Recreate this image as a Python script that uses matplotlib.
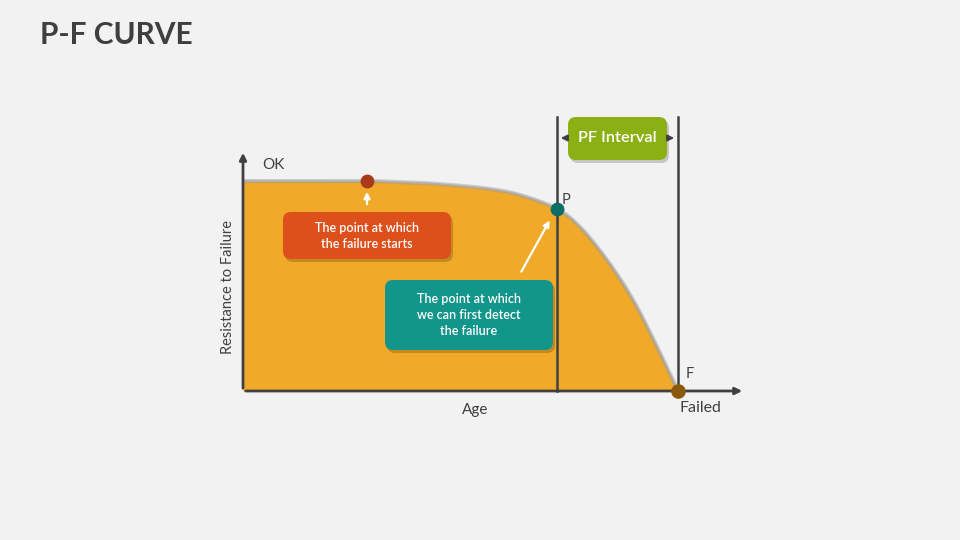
import numpy as np
import matplotlib
matplotlib.use("Agg")
import matplotlib.pyplot as plt
from matplotlib.patches import FancyBboxPatch

plt.rcParams['font.family'] = ['Lato', 'DejaVu Sans']

# P-F curve (age 0..10, resistance 0..100)
age = [0, 1.5, 2.85, 3.6, 4.5, 5.7, 6.45, 7.22, 7.75, 8.37, 8.97, 9.52, 10]
resistance = [100, 100, 100, 99.5, 98.6, 96.2, 92.9, 86.7, 78.1, 62.4, 43.3, 21.0, 0]
start_age, start_res = 2.85, 100
p_age, p_res = 7.22, 86.7
f_age, f_res = 10, 0

title = "P-F CURVE"
start_text = "The point at which\nthe failure starts"
p_text = "The point at which\nwe can first detect\nthe failure"
interval_text = "PF Interval"

bg = '#F2F2F2'
dark = '#404040'


def smooth(xs, ys, n=20):
    # catmull-rom through the read points
    xs = np.asarray(xs, float)
    ys = np.asarray(ys, float)
    px = np.concatenate([[xs[0]], xs, [xs[-1]]])
    py = np.concatenate([[ys[0]], ys, [ys[-1]]])
    ox, oy = [], []
    for i in range(1, len(px) - 2):
        t = np.linspace(0, 1, n, endpoint=False)
        for arr, out in ((px, ox), (py, oy)):
            p0, p1, p2, p3 = arr[i - 1], arr[i], arr[i + 1], arr[i + 2]
            out.extend(0.5 * ((2 * p1) + (-p0 + p2) * t +
                              (2 * p0 - 5 * p1 + 4 * p2 - p3) * t ** 2 +
                              (-p0 + 3 * p1 - 3 * p2 + p3) * t ** 3))
    ox.append(xs[-1])
    oy.append(ys[-1])
    return np.array(ox), np.array(oy)


fig = plt.figure(figsize=(9.6, 5.4), dpi=100, facecolor=bg)

# overlay axes in pixel units for the callouts
ov = fig.add_axes([0, 0, 1, 1], zorder=5)
ov.set_xlim(0, 960)
ov.set_ylim(540, 0)
ov.axis('off')
ov.patch.set_alpha(0)

# chart axes
ax = fig.add_axes([243 / 960, 149 / 540, 502 / 960, 241 / 540], zorder=1)
ax.set_xlim(0, 11.54)
ax.set_ylim(0, 114.8)
ax.axis('off')
ax.patch.set_alpha(0)

cx, cy = smooth(age, resistance)
ax.fill_between(cx, 0, cy, color='#F0A929', zorder=2, lw=0)
# soft grey edge along the curve
ax.plot(cx, cy, color='#9A9A9A', lw=3.0, alpha=0.45, zorder=2.2)
ax.plot(cx, cy, color='#A8A8A8', lw=1.2, alpha=0.7, zorder=2.3)

# vertical P and F lines
for a in (p_age, f_age):
    ax.plot([a, a], [0, 130.5], color=dark, lw=1.8, zorder=3, clip_on=False)

# axes arrows
ax.annotate('', xy=(11.54, 0), xytext=(0, 0),
            arrowprops=dict(arrowstyle='-|>', color=dark, lw=2, mutation_scale=10),
            zorder=4, annotation_clip=False)
ax.annotate('', xy=(0, 114.8), xytext=(0, 0),
            arrowprops=dict(arrowstyle='-|>', color=dark, lw=2, mutation_scale=10),
            zorder=4, annotation_clip=False)

# points
ax.scatter([start_age], [start_res], s=80, color='#A93A1A', zorder=6, clip_on=False)
ax.scatter([p_age], [p_res], s=80, color='#0E6E66', zorder=6, clip_on=False)
ax.scatter([f_age], [f_res], s=90, color='#8A5A0C', zorder=6, clip_on=False)

# labels
ov.text(40, 35, title, fontsize=21.5, fontweight='bold', color='#3F3F3F', va='center', ha='left')
ov.text(262, 165, "OK", fontsize=11, color=dark, va='center', ha='left')
ov.text(562, 200, "P", fontsize=10.5, color=dark, va='center', ha='left')
ov.text(686, 374, "F", fontsize=10.5, color=dark, va='center', ha='left')
ov.text(475, 410, "Age", fontsize=11, color=dark, va='center', ha='center')
ov.text(700, 408, "Failed", fontsize=11.5, color=dark, va='center', ha='center')
ov.text(228, 287, "Resistance to Failure", fontsize=10.5, color=dark, va='center',
        ha='center', rotation=90)


def callout(x0, y0, x1, y1, color, text, fs=9):
    shadow = FancyBboxPatch((x0 + 2, y0 + 3), x1 - x0, y1 - y0,
                            boxstyle='round,pad=0,rounding_size=8',
                            fc='#000000', ec='none', alpha=0.18, zorder=6)
    box = FancyBboxPatch((x0, y0), x1 - x0, y1 - y0,
                         boxstyle='round,pad=0,rounding_size=8',
                         fc=color, ec='none', zorder=7)
    ov.add_patch(shadow)
    ov.add_patch(box)
    ov.text((x0 + x1) / 2, (y0 + y1) / 2, text, color='white', fontsize=fs,
            fontweight='semibold', ha='center', va='center', zorder=8,
            linespacing=1.4)


callout(283, 212, 451, 259, '#DD4F1B', start_text)
callout(385, 280, 553, 350, '#12958A', p_text)
callout(568, 117, 667, 160, '#8BB013', interval_text, fs=11.8)

# white pointer arrows
ov.annotate('', xy=(367, 189), xytext=(367, 207),
            arrowprops=dict(arrowstyle='-|>', color='white', lw=1.6, mutation_scale=9), zorder=8)
ov.annotate('', xy=(551, 218), xytext=(520, 274),
            arrowprops=dict(arrowstyle='-|>', color='white', lw=1.6, mutation_scale=9), zorder=8)

# interval arrows
ov.annotate('', xy=(558, 138), xytext=(568, 138),
            arrowprops=dict(arrowstyle='-|>', color=dark, lw=1.4, mutation_scale=9), zorder=8)
ov.annotate('', xy=(677, 138), xytext=(667, 138),
            arrowprops=dict(arrowstyle='-|>', color=dark, lw=1.4, mutation_scale=9), zorder=8)

fig.savefig('out.png', dpi=100, facecolor=bg)
